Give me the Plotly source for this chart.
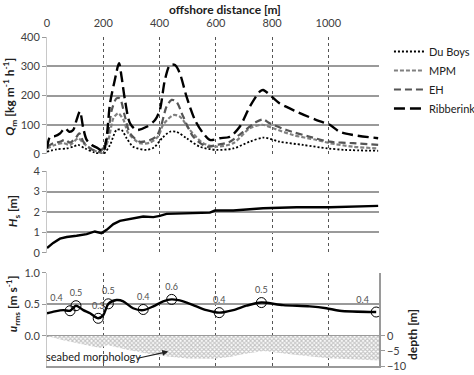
import plotly.graph_objects as go

# ---------------- data ----------------
rib_x = [0, 11, 28, 46, 64, 79, 93, 105, 117, 129, 141, 159, 182, 200, 212, 224, 241, 256, 265, 277, 295, 318, 354, 384, 401, 419, 437, 455, 472, 496, 526, 555, 579, 614, 650, 685, 721, 756, 768, 827, 887, 958, 1005, 1040, 1088, 1177]
rib_y = [19, 59, 61, 70, 88, 76, 82, 116, 145, 88, 48, 31, 19, 8, 59, 173, 253, 310, 264, 185, 105, 82, 93, 116, 150, 253, 304, 304, 276, 196, 116, 71, 48, 54, 59, 93, 162, 213, 219, 173, 145, 116, 100, 76, 65, 54]

eh_x = [0, 22, 46, 64, 82, 105, 115, 129, 153, 188, 212, 230, 247, 259, 277, 295, 330, 366, 390, 405, 425, 443, 460, 484, 520, 567, 603, 650, 697, 745, 768, 792, 851, 934, 1005, 1088, 1177]
eh_y = [25, 37, 42, 48, 39, 59, 71, 42, 19, 8, 48, 150, 190, 190, 128, 71, 42, 48, 62, 95, 162, 185, 179, 128, 59, 25, 31, 42, 76, 110, 118, 105, 82, 59, 42, 37, 31]

mpm_x = [0, 28, 58, 82, 111, 129, 165, 194, 218, 236, 253, 272, 289, 330, 366, 395, 413, 449, 472, 508, 555, 603, 662, 721, 765, 804, 874, 958, 1005, 1088, 1177]
mpm_y = [19, 31, 37, 31, 54, 37, 14, 5, 48, 122, 139, 116, 71, 37, 39, 60, 100, 133, 128, 82, 37, 25, 37, 88, 100, 88, 65, 48, 37, 25, 19]

duboys_x = [0, 34, 70, 93, 111, 135, 170, 200, 224, 247, 265, 283, 306, 354, 380, 410, 437, 460, 496, 543, 603, 662, 721, 770, 827, 910, 999, 1059, 1177]
duboys_y = [8, 16, 19, 25, 31, 19, 5, 0, 31, 82, 82, 54, 25, 14, 22, 55, 76, 76, 54, 25, 14, 19, 42, 56, 42, 31, 19, 14, 11]

hs_x = [0, 22, 46, 70, 105, 141, 170, 182, 194, 212, 236, 259, 295, 318, 342, 378, 401, 425, 484, 543, 579, 597, 662, 768, 887, 1005, 1177]
hs_y = [0.24, 0.49, 0.70, 0.78, 0.84, 0.92, 1.05, 1.00, 0.97, 1.13, 1.41, 1.57, 1.65, 1.70, 1.78, 1.75, 1.81, 1.91, 1.94, 1.94, 1.97, 2.07, 2.07, 2.18, 2.23, 2.23, 2.30]

u_x = [0, 28, 58, 82, 103, 129, 153, 182, 200, 218, 247, 271, 306, 342, 378, 413, 443, 484, 531, 567, 612, 662, 709, 762, 839, 934, 993, 1040, 1170]
u_y = [0.36, 0.39, 0.41, 0.40, 0.48, 0.41, 0.36, 0.28, 0.33, 0.51, 0.57, 0.55, 0.44, 0.41, 0.47, 0.55, 0.58, 0.55, 0.47, 0.41, 0.37, 0.41, 0.48, 0.53, 0.49, 0.47, 0.44, 0.40, 0.38]

mark_x = [82, 103, 182, 218, 342, 443, 612, 762, 1170]
mark_y = [0.40, 0.48, 0.28, 0.51, 0.42, 0.58, 0.37, 0.53, 0.38]
mark_lbl = ["0.4", "0.5", "0.3", "0.5", "0.4", "0.6", "0.4", "0.5", "0.4"]
mark_pos = ["top left", "top center", "top center", "top center", "top center", "top center", "top center", "top center", "top left"]

depth_x = [0, 50, 120, 190, 215, 280, 350, 420, 500, 590, 650, 700, 770, 880, 1000, 1180]
depth_y = [0, -1.3, -2.7, -4.0, -3.0, -4.5, -5.8, -6.8, -7.5, -7.6, -7.0, -6.0, -5.0, -6.3, -7.4, -8.2]

x_ticks = [0, 200, 400, 600, 800, 1000]

FONT = "Lato, 'Open Sans', sans-serif"
TXT = "#404040"
GRID = "#9a9a9a"

fig = go.Figure()

fig.add_trace(go.Scatter(x=duboys_x, y=duboys_y, name="Du Boys", mode="lines",
                         line=dict(color="black", width=1.8, dash="2px,2px", shape="spline", smoothing=0.8),
                         xaxis="x", yaxis="y"))
fig.add_trace(go.Scatter(x=mpm_x, y=mpm_y, name="MPM", mode="lines",
                         line=dict(color="#808080", width=2.2, dash="4px,2px", shape="spline", smoothing=0.8),
                         xaxis="x", yaxis="y"))
fig.add_trace(go.Scatter(x=eh_x, y=eh_y, name="EH", mode="lines",
                         line=dict(color="#555555", width=2.2, dash="7px,4px", shape="spline", smoothing=0.8),
                         xaxis="x", yaxis="y"))
fig.add_trace(go.Scatter(x=rib_x, y=rib_y, name="Ribberink", mode="lines",
                         line=dict(color="black", width=2.4, dash="11px,5px", shape="spline", smoothing=0.8),
                         xaxis="x", yaxis="y"))

fig.add_trace(go.Scatter(x=hs_x, y=hs_y, mode="lines", showlegend=False,
                         line=dict(color="black", width=2.4), xaxis="x2", yaxis="y2"))

fig.add_trace(go.Scatter(x=depth_x, y=depth_y, mode="lines", showlegend=False, fill="tozeroy",
                         line=dict(color="rgba(0,0,0,0)", width=0),
                         fillcolor="white",
                         fillpattern=dict(shape="x", size=3, solidity=0.6, fgcolor="#8a8a8a", bgcolor="white"),
                         xaxis="x3", yaxis="y4"))

fig.add_trace(go.Scatter(x=u_x, y=u_y, mode="lines", showlegend=False,
                         line=dict(color="black", width=2.4, shape="spline", smoothing=0.8),
                         xaxis="x3", yaxis="y3"))
fig.add_trace(go.Scatter(x=mark_x, y=mark_y, mode="markers+text", showlegend=False,
                         text=mark_lbl, textposition=mark_pos,
                         textfont=dict(size=9, color="#505050", family=FONT),
                         marker=dict(symbol="circle-open", size=10, color="black", line=dict(width=1)),
                         xaxis="x3", yaxis="y3"))

xcommon = dict(range=[0, 1180], tickvals=x_ticks, showgrid=True, griddash="dot",
               gridcolor="#555555", gridwidth=1, zeroline=False, automargin=False)
ycommon = dict(showgrid=True, gridcolor=GRID, gridwidth=1.5, zeroline=False, automargin=False,
               ticks="outside", ticklen=4, tickcolor=GRID, showline=True, linecolor="#c8c8c8",
               tickfont=dict(size=11, color=TXT, family=FONT))

fig.update_layout(
    width=474, height=375,
    margin=dict(l=47, r=95, t=37, b=9, autoexpand=False),
    paper_bgcolor="white", plot_bgcolor="white",
    font=dict(family=FONT, size=11, color=TXT),
    xaxis=dict(**xcommon, anchor="y", side="top", showticklabels=True, ticks="outside",
               ticklen=5, tickcolor="rgba(0,0,0,0)", tickfont=dict(size=11, color=TXT, family=FONT)),
    xaxis2=dict(**xcommon, anchor="y2", matches="x", showticklabels=False),
    xaxis3=dict(**xcommon, anchor="y3", matches="x", showticklabels=False,
                showline=True, linecolor=GRID, linewidth=1.5),
    yaxis=dict(**ycommon, domain=[0.6444, 1.0], range=[0, 400], tickvals=[0, 100, 200, 300, 400]),
    yaxis2=dict(**ycommon, domain=[0.3435, 0.5927], range=[0, 4], tickvals=[0, 1, 2, 3, 4]),
    yaxis3=dict(**ycommon, domain=[0.0, 0.2827], range=[-0.478, 1.0], tickvals=[0, 0.5, 1.0],
                ticktext=["0.0", "0.5", "1.0"]),
    yaxis4=dict(overlaying="y3", side="right", anchor="x3", range=[-10, 20.9], tickvals=[0, -5, -10],
                showgrid=False, zeroline=False, showline=True, linecolor=GRID, linewidth=1.5,
                ticks="outside", ticklen=4, tickcolor=GRID, automargin=False,
                tickfont=dict(size=11, color=TXT, family=FONT)),
    legend=dict(x=1.03, y=1.0, xanchor="left", yanchor="top", itemwidth=30,
                font=dict(size=11, color="#202020", family=FONT), bgcolor="rgba(0,0,0,0)",
                tracegroupgap=0),
)

annots = [
    dict(text="<b>offshore distance [m]</b>", xref="paper", yref="paper", x=0.536, y=1.085,
         showarrow=False, font=dict(size=12, color="#202020"), xanchor="center", yanchor="middle"),
    dict(text="<b><i>Q</i><sub>m</sub> [kg m<sup>-1</sup> h<sup>-1</sup>]</b>", xref="paper", yref="paper",
         x=-0.11, y=0.82, textangle=-90, showarrow=False, font=dict(size=12, color="#202020"),
         xanchor="center", yanchor="middle"),
    dict(text="<b><i>H</i><sub>s</sub> [m]</b>", xref="paper", yref="paper",
         x=-0.1, y=0.47, textangle=-90, showarrow=False, font=dict(size=12, color="#202020"),
         xanchor="center", yanchor="middle"),
    dict(text="<b><i>u</i><sub>rms</sub> [m s<sup>-1</sup>]</b>", xref="paper", yref="paper",
         x=-0.1, y=0.19, textangle=-90, showarrow=False, font=dict(size=12, color="#202020"),
         xanchor="center", yanchor="middle"),
    dict(text="<b>depth [m]</b>", xref="paper", yref="paper",
         x=1.103, y=0.095, textangle=-90, showarrow=False, font=dict(size=12, color="#202020"),
         xanchor="center", yanchor="middle"),
    dict(text="seabed morphology", xref="x3", yref="y4", x=167, y=-6.9, showarrow=False,
         font=dict(size=11, color="#202020"), xanchor="center", yanchor="middle"),
    dict(text="", xref="x3", yref="y4", x=431, y=-5.2, ax=-32, ay=7, showarrow=True,
         arrowhead=2, arrowsize=1, arrowwidth=1.2, arrowcolor="#202020"),
]
fig.update_layout(annotations=annots)

fig.write_html("out.html", config={"displayModeBar": False},
               post_script="document.body.style.margin='0px';document.body.style.padding='0px';")
